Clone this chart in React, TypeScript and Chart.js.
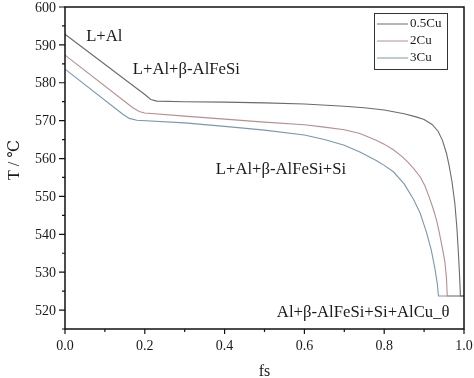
import React, { useEffect, useRef } from "react";
import { Chart, registerables } from "chart.js";

Chart.register(...registerables);

const seriesNames = ["0.5Cu", "2Cu", "3Cu"];
const seriesColors = ["#6a6a74", "#b88e8e", "#7a98ae"];

const cu05Fs = [0, 0.2, 0.215, 0.23, 0.3, 0.4, 0.5, 0.6, 0.7, 0.75, 0.8, 0.85, 0.88, 0.9, 0.92, 0.935, 0.946, 0.956, 0.963, 0.97, 0.977, 0.982, 0.986, 0.989, 0.991, 1.0];
const cu05T = [592.8, 576.9, 575.6, 575.15, 575.0, 574.9, 574.7, 574.4, 573.8, 573.4, 572.8, 571.8, 571.0, 570.3, 569.0, 567.2, 564.8, 561.4, 558.0, 553.8, 548.2, 542.0, 535.0, 529.0, 523.7, 523.7];

const cu2Fs = [0, 0.17, 0.186, 0.2, 0.3, 0.4, 0.5, 0.6, 0.65, 0.7, 0.739, 0.78, 0.8, 0.823, 0.845, 0.86, 0.875, 0.89, 0.902, 0.912, 0.922, 0.931, 0.938, 0.945, 0.952, 0.956, 0.958, 1.0];
const cu2T = [587.3, 573.4, 572.4, 572.0, 571.2, 570.4, 569.6, 568.9, 568.3, 567.6, 566.6, 564.8, 563.8, 562.3, 560.5, 559.0, 557.2, 555.2, 552.8, 550.0, 547.0, 543.8, 540.5, 536.8, 532.8, 528.5, 523.7, 523.7];

const cu3Fs = [0, 0.145, 0.161, 0.18, 0.3, 0.4, 0.5, 0.6, 0.65, 0.7, 0.739, 0.78, 0.8, 0.823, 0.85, 0.873, 0.89, 0.906, 0.918, 0.927, 0.933, 0.936, 1.0];
const cu3T = [583.6, 571.7, 570.6, 570.1, 569.4, 568.5, 567.5, 566.2, 565.0, 563.5, 561.7, 559.5, 558.2, 556.5, 553.3, 549.3, 545.6, 540.5, 535.8, 531.0, 527.0, 523.7, 523.7];

const xMajorTicks = [0, 0.2, 0.4, 0.6, 0.8, 1.0];
const xMinorTicks = [0.1, 0.3, 0.5, 0.7, 0.9];
const yMajorTicks = [520, 530, 540, 550, 560, 570, 580, 590, 600];
const yMinorTicks = [515, 525, 535, 545, 555, 565, 575, 585, 595];

const phaseLabels = ["L+Al", "L+Al+β-AlFeSi", "L+Al+β-AlFeSi+Si", "Al+β-AlFeSi+Si+AlCu_θ"];
const phaseFs = [0.053, 0.17, 0.378, 0.531];
const phaseT = [592.1, 583.4, 557.0, 519.3];

const xTitle = "fs";
const yTitle = "T / ℃";

const SERIF = "'Liberation Serif', 'DejaVu Serif', serif";

const decorPlugin = {
  id: "decor",
  afterDraw(chart: any) {
    const ctx = chart.ctx;
    const xs = chart.scales.x;
    const ys = chart.scales.y;
    const a = chart.chartArea;
    ctx.save();
    // frame
    ctx.strokeStyle = "#111";
    ctx.lineWidth = 1.5;
    ctx.strokeRect(a.left, a.top, a.right - a.left, a.bottom - a.top);
    // ticks
    ctx.lineWidth = 1.2;
    ctx.beginPath();
    xMajorTicks.forEach((v) => {
      const px = xs.getPixelForValue(v);
      ctx.moveTo(px, a.bottom);
      ctx.lineTo(px, a.bottom + 5);
    });
    xMinorTicks.forEach((v) => {
      const px = xs.getPixelForValue(v);
      ctx.moveTo(px, a.bottom);
      ctx.lineTo(px, a.bottom + 3);
    });
    yMajorTicks.forEach((v) => {
      const py = ys.getPixelForValue(v);
      ctx.moveTo(a.left, py);
      ctx.lineTo(a.left - 6, py);
    });
    yMinorTicks.forEach((v) => {
      const py = ys.getPixelForValue(v);
      ctx.moveTo(a.left, py);
      ctx.lineTo(a.left - 3, py);
    });
    ctx.stroke();

    // tick labels
    ctx.fillStyle = "#1a1a1a";
    ctx.font = "14px " + SERIF;
    ctx.textAlign = "center";
    ctx.textBaseline = "middle";
    xMajorTicks.forEach((v) => {
      ctx.fillText(v.toFixed(1), xs.getPixelForValue(v), a.bottom + 17);
    });
    ctx.textAlign = "right";
    yMajorTicks.forEach((v) => {
      ctx.fillText(String(v), a.left - 9, ys.getPixelForValue(v) + 1);
    });

    // phase labels
    ctx.font = "16.7px " + SERIF;
    ctx.textAlign = "left";
    ctx.textBaseline = "middle";
    phaseLabels.forEach((t, i) => {
      ctx.fillText(t, xs.getPixelForValue(phaseFs[i]), ys.getPixelForValue(phaseT[i]));
    });

    // axis titles
    ctx.font = "16px " + SERIF;
    ctx.textAlign = "center";
    ctx.fillText(xTitle, (a.left + a.right) / 2, 372);
    ctx.save();
    ctx.translate(15, 160);
    ctx.rotate(-Math.PI / 2);
    ctx.fillText(yTitle, 0, 0);
    ctx.restore();

    // legend
    const bx = a.right - 90;
    const by = a.top + 6;
    const bw = 73;
    const bh = 56;
    ctx.fillStyle = "#fff";
    ctx.fillRect(bx, by, bw, bh);
    ctx.strokeStyle = "#333";
    ctx.lineWidth = 1;
    ctx.strokeRect(bx + 0.5, by + 0.5, bw, bh);
    ctx.font = "13px " + SERIF;
    ctx.textAlign = "left";
    ctx.textBaseline = "middle";
    seriesNames.forEach((n, i) => {
      const ry = by + 11 + i * 17;
      ctx.strokeStyle = seriesColors[i];
      ctx.beginPath();
      ctx.moveTo(bx + 3, ry);
      ctx.lineTo(bx + 34, ry);
      ctx.stroke();
      ctx.fillStyle = "#1a1a1a";
      ctx.fillText(n, bx + 36, ry);
    });
    ctx.restore();
  },
};

function toPoints(xsArr: number[], ysArr: number[]) {
  return xsArr.map((x, i) => ({ x, y: ysArr[i] }));
}

export default function App() {
  const ref = useRef<HTMLCanvasElement | null>(null);
  useEffect(() => {
    if (!ref.current) return;
    const allFs = [cu05Fs, cu2Fs, cu3Fs];
    const allT = [cu05T, cu2T, cu3T];
    const chart = new Chart(ref.current, {
      type: "line",
      data: {
        datasets: seriesNames.map((name, i) => ({
          label: name,
          data: toPoints(allFs[i], allT[i]),
          borderColor: seriesColors[i],
          borderWidth: 1.1,
          pointRadius: 0,
          fill: false,
          tension: 0,
        })),
      },
      options: {
        responsive: false,
        animation: false,
        layout: { padding: { top: 7, right: 10, left: 0, bottom: 0 } },
        plugins: { legend: { display: false }, tooltip: { enabled: false }, title: { display: false } },
        scales: {
          x: {
            type: "linear",
            min: 0,
            max: 1,
            afterFit: (s: any) => {
              s.height = 49;
              s.paddingLeft = 0;
              s.paddingRight = 0;
            },
            grid: { display: false },
            border: { display: false },
            ticks: { display: false },
          },
          y: {
            type: "linear",
            min: 515,
            max: 600,
            afterFit: (s: any) => {
              s.width = 65;
              s.paddingTop = 0;
              s.paddingBottom = 0;
            },
            grid: { display: false },
            border: { display: false },
            ticks: { display: false },
          },
        },
      },
      plugins: [decorPlugin],
    });
    return () => chart.destroy();
  }, []);
  return (
    <div style={{ position: "fixed", left: 0, top: 0, width: 474, height: 378, background: "#fff" }}>
      <canvas ref={ref} width={474} height={378} style={{ width: 474, height: 378 }} />
    </div>
  );
}
